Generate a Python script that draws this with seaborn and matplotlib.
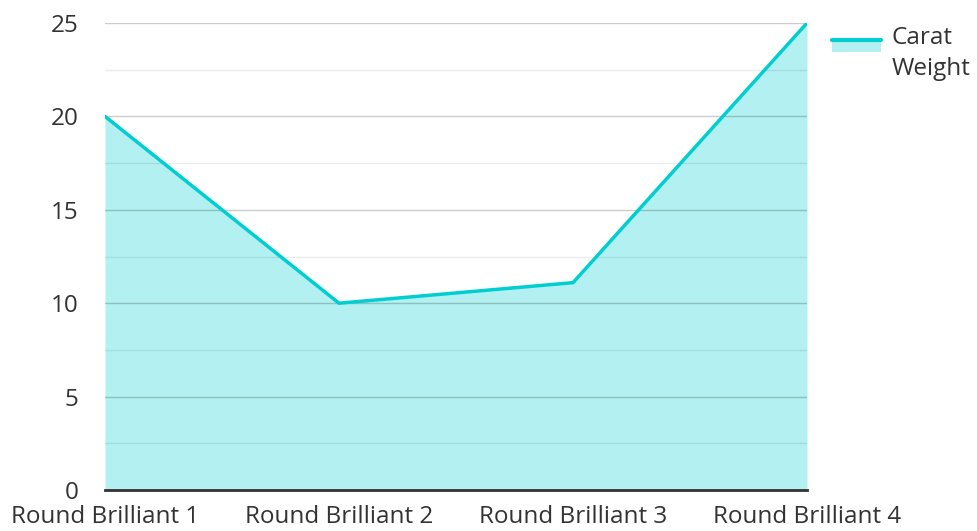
import matplotlib
matplotlib.use("Agg")
import matplotlib.pyplot as plt
import seaborn as sns
import pandas as pd
from matplotlib.legend_handler import HandlerBase
from matplotlib.patches import Rectangle
from matplotlib.lines import Line2D

categories = ["Round Brilliant 1", "Round Brilliant 2", "Round Brilliant 3", "Round Brilliant 4"]
carat_weight = [20, 10, 11.1, 25]
series_name = "Carat\nWeight"

sns.set_theme(style="white")
plt.rcParams['font.family'] = ['Open Sans', 'DejaVu Sans']

LINE = "#00CED1"
FS = 17.5

df = pd.DataFrame({"cat": categories, "val": carat_weight, "x": range(len(categories))})

fig = plt.figure(figsize=(9.77, 5.31), dpi=100)
ax = fig.add_axes([105/977, 1-490/531, (807-105)/977, (490-23)/531])

ax.fill_between(df["x"], df["val"], 0, color=LINE, alpha=0.3, linewidth=0, zorder=1)
sns.lineplot(data=df, x="x", y="val", ax=ax, color=LINE, linewidth=2.5, zorder=3, legend=False)

ax.set_xlim(0, len(categories) - 1)
ax.set_ylim(0, 25)
ax.set_yticks([0, 5, 10, 15, 20, 25])
ax.set_yticks([2.5, 7.5, 12.5, 17.5, 22.5], minor=True)
ax.set_xticks(df["x"])
ax.set_xticklabels(categories)
ax.grid(True, which="major", axis="y", color="black", linewidth=1, alpha=0.2, zorder=2)
ax.grid(True, which="minor", axis="y", color="black", linewidth=1, alpha=0.08, zorder=2)
ax.set_axisbelow(False)
ax.grid(False, axis="x")
for s in ["top", "right", "left"]:
    ax.spines[s].set_visible(False)
ax.spines["bottom"].set_color("#333333")
ax.spines["bottom"].set_linewidth(2)
ax.spines["bottom"].set_zorder(4)
ax.tick_params(axis="both", which="both", length=0, labelsize=FS, labelcolor="#333333")
ax.tick_params(axis="y", pad=19)
ax.tick_params(axis="x", pad=11)
ax.set_xlabel("")
ax.set_ylabel("")


class AreaHandler(HandlerBase):
    def create_artists(self, legend, orig_handle, xdescent, ydescent, width, height, fontsize, trans):
        r = Rectangle((-xdescent, -ydescent + height * 0.65), width, height * 0.65,
                      facecolor=LINE, alpha=0.3, linewidth=0, transform=trans)
        l = Line2D([-xdescent, -xdescent + width], [-ydescent + height * 1.3] * 2,
                   color=LINE, linewidth=3, transform=trans)
        return [r, l]


proxy = Rectangle((0, 0), 1, 1)
leg = fig.legend([proxy], [series_name], handler_map={Rectangle: AreaHandler()},
                 loc="upper left", bbox_to_anchor=(832/977, 1-26/531), frameon=False,
                 fontsize=FS, handlelength=2.0, handletextpad=0.45, borderaxespad=0,
                 borderpad=0)
for t in leg.get_texts():
    t.set_color("#333333")
    t.set_linespacing(1.4)

fig.savefig("out.png", dpi=100)
